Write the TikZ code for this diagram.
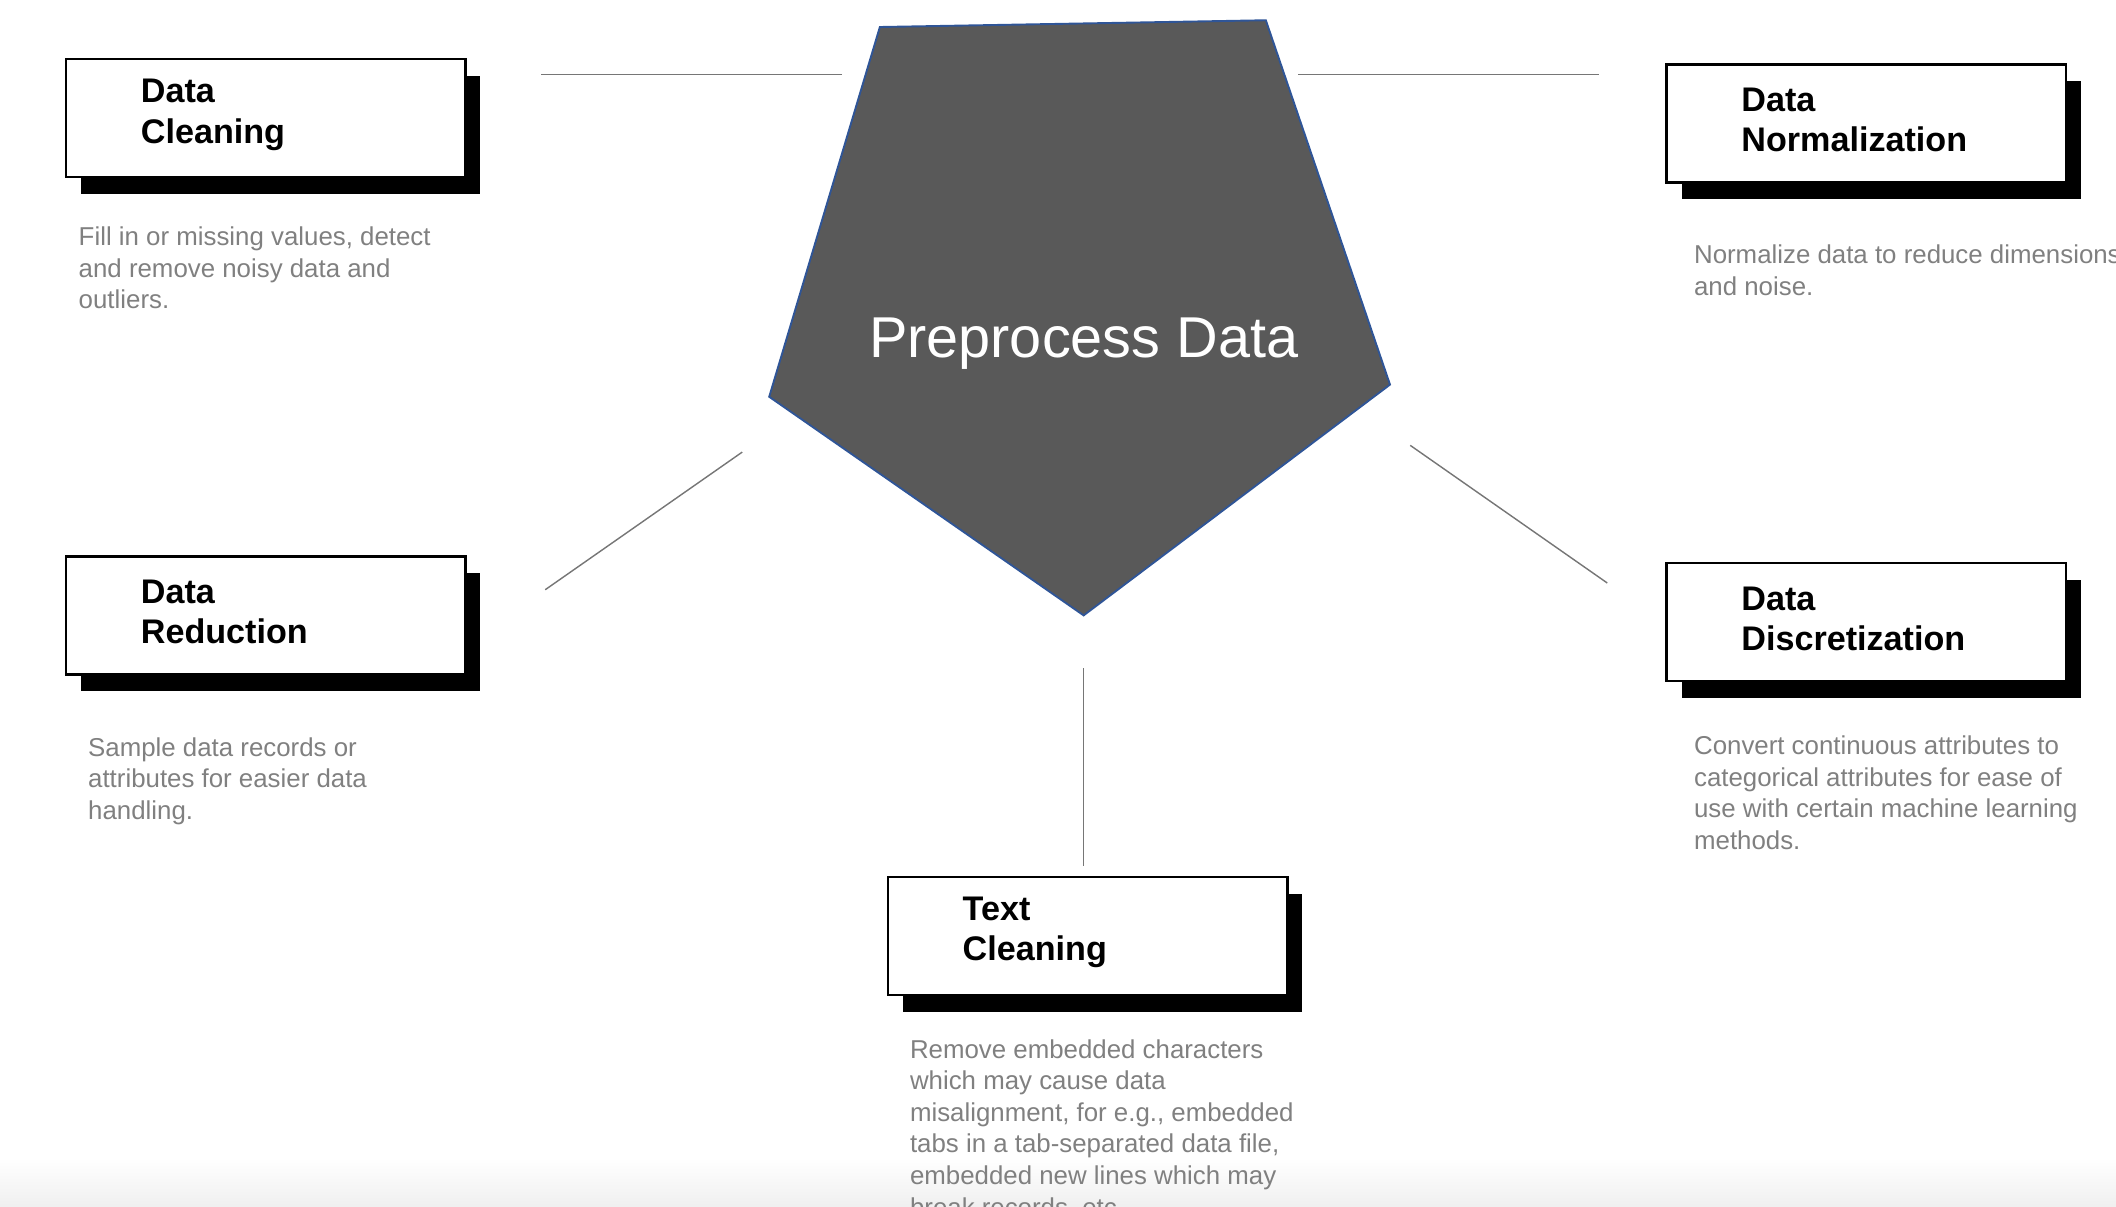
\documentclass[tikz,border=0pt]{standalone}
\usepackage{fontspec}
\setmainfont{Liberation Sans}
\usepackage{tikz}
\usetikzlibrary{shadows}

\definecolor{coregray}{RGB}{89,89,89}
\definecolor{coreblue}{RGB}{47,85,151}
\definecolor{descgray}{RGB}{128,128,128}
\definecolor{linkgray}{RGB}{118,118,118}

\begin{document}
\begin{tikzpicture}[x=0.02cm, y=-0.02cm,
        stagebox/.style={draw, line width=1.1pt, fill=white, minimum width=5.92cm, minimum height=1.75cm,
            drop shadow={shadow xshift=0.22cm, shadow yshift=-0.25cm, opacity=1, fill=black}},
        stagetitle/.style={anchor=west, align=left, inner sep=0pt, font=\fontsize{14.4}{17}\selectfont\bfseries},
        stagedesc/.style={anchor=north west, align=left, inner sep=0pt, text=descgray, font=\fontsize{10.9}{13.3}\selectfont},
        link/.style={draw=linkgray, line width=0.6pt}]
            \useasboundingbox (0, 0) rectangle (1568, 894);
            \clip (0, 0) rectangle (1568, 894);
            \shade[top color=white, bottom color=black!6] (0, 858) rectangle (1568, 894);
            % centre
            \fill[fill=coregray] (652, 20) -- (938, 15) -- (1030, 285) -- (803, 456) -- (570, 294) -- cycle;
            \draw[draw=coreblue, line width=0.8pt] (652, 20) -- (938, 15) -- (1030, 285) -- (803, 456) -- (570, 294) -- cycle;
            \node[anchor=base, text=white, font=\fontsize{24.3}{29}\selectfont] (core) at (803, 265) {Preprocess Data};
            % stages
            \node[stagebox] (clean) at (197, 87.5) {};
            \node[stagebox] (norm) at (1383, 91.5) {};
            \node[stagebox] (reduce) at (197, 456) {};
            \node[stagebox] (discr) at (1383, 461) {};
            \node[stagebox] (text) at (806, 693.5) {};
            \node[stagetitle] (cleantitle) at ([xshift=1.12cm, yshift=0.05cm] clean.west) {Data\\Cleaning};
            \node[stagetitle] (normtitle) at ([xshift=1.12cm, yshift=0.05cm] norm.west) {Data\\Normalization};
            \node[stagetitle] (reducetitle) at ([xshift=1.12cm, yshift=0.05cm] reduce.west) {Data\\Reduction};
            \node[stagetitle] (discrtitle) at ([xshift=1.12cm, yshift=0.05cm] discr.west) {Data\\Discretization};
            \node[stagetitle] (texttitle) at ([xshift=1.12cm, yshift=0.05cm] text.west) {Text\\Cleaning};
            % descriptions
            \node[stagedesc] (cleandesc) at (58, 168) {Fill in or missing values, detect\\and remove noisy data and\\outliers.};
            \node[stagedesc] (normdesc) at (1255, 181) {Normalize data to reduce dimensions\\and noise.};
            \node[stagedesc] (reducedesc) at (65, 546) {Sample data records or\\attributes for easier data\\handling.};
            \node[stagedesc] (discrdesc) at (1255, 545) {Convert continuous attributes to\\categorical attributes for ease of\\use with certain machine learning\\methods.};
            \node[stagedesc] (textdesc) at (674, 770) {Remove embedded characters\\which may cause data\\misalignment, for e.g., embedded\\tabs in a tab-separated data file,\\embedded new lines which may\\break records, etc.};
            % links
            \coordinate (cleanend) at (401, 55);
            \coordinate (cleanstart) at (624, 55);
            \coordinate (normstart) at (962, 55);
            \coordinate (normend) at (1185, 55);
            \coordinate (reducestart) at (550, 335);
            \coordinate (reduceend) at (404, 437);
            \coordinate (discrstart) at (1045, 330);
            \coordinate (discrend) at (1191, 432);
            \coordinate (textstart) at (803, 495);
            \coordinate (textend) at (803, 642);
            \draw[link] (cleanstart) -- (cleanend);
            \draw[link] (normstart) -- (normend);
            \draw[link] (reducestart) -- (reduceend);
            \draw[link] (discrstart) -- (discrend);
            \draw[link] (textstart) -- (textend);
        \end{tikzpicture}
\end{document}
